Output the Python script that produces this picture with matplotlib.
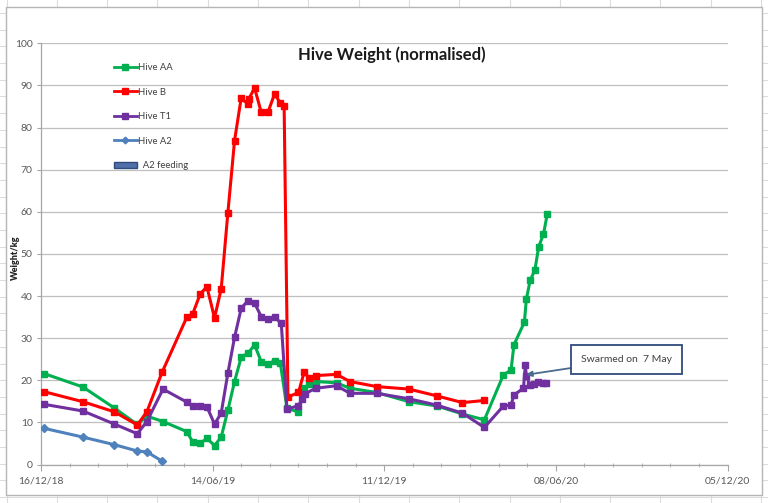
import matplotlib
matplotlib.use('Agg')
import matplotlib.pyplot as plt
import matplotlib.dates as mdates
from matplotlib.lines import Line2D
from matplotlib.patches import Rectangle, Patch
import pandas as pd

plt.rcParams['font.family'] = ['Lato', 'DejaVu Sans']

# ---------------- data ----------------
aa_dates = ['2018-12-19', '2019-01-29', '2019-03-03', '2019-03-27', '2019-04-06', '2019-04-23',
            '2019-05-18', '2019-05-24', '2019-06-01', '2019-06-08', '2019-06-16', '2019-06-23',
            '2019-06-30', '2019-07-07', '2019-07-14', '2019-07-21', '2019-07-28', '2019-08-04',
            '2019-08-11', '2019-08-18', '2019-08-24', '2019-08-31', '2019-09-12', '2019-09-18',
            '2019-09-23', '2019-09-30', '2019-10-22', '2019-11-05', '2019-12-03', '2020-01-06',
            '2020-02-04', '2020-03-02', '2020-03-25', '2020-04-14', '2020-04-22', '2020-04-25',
            '2020-05-06', '2020-05-08', '2020-05-12', '2020-05-17', '2020-05-21', '2020-05-26',
            '2020-05-30']
aa_vals = [21.6, 18.4, 13.4, 9.5, 11.5, 10.2,
           7.8, 5.4, 5.0, 6.2, 4.5, 6.5,
           12.9, 19.7, 25.5, 26.4, 28.4, 24.4,
           23.9, 24.6, 24.1, 13.3, 12.5, 18.1,
           19.0, 19.7, 19.4, 18.1, 17.1, 14.9,
           13.9, 12.0, 10.6, 21.3, 22.4, 28.4,
           33.8, 39.2, 43.7, 46.2, 51.7, 54.7,
           59.5]

b_dates = ['2018-12-19', '2019-01-29', '2019-03-03', '2019-03-27', '2019-04-06', '2019-04-22',
           '2019-05-18', '2019-05-24', '2019-06-01', '2019-06-08', '2019-06-16', '2019-06-23',
           '2019-06-30', '2019-07-07', '2019-07-14', '2019-07-21', '2019-07-22', '2019-07-28',
           '2019-08-04', '2019-08-11', '2019-08-18', '2019-08-24', '2019-08-28', '2019-09-01',
           '2019-09-12', '2019-09-18', '2019-09-23', '2019-09-30', '2019-10-22', '2019-11-05',
           '2019-12-03', '2020-01-06', '2020-02-04', '2020-03-02', '2020-03-25']
b_vals = [17.3, 14.9, 12.5, 9.4, 12.5, 21.9,
          35.0, 35.7, 40.5, 42.2, 34.8, 41.7,
          59.8, 76.9, 87.1, 85.5, 86.8, 89.4,
          83.6, 83.6, 88.0, 85.8, 85.0, 16.0,
          17.1, 21.9, 20.6, 21.1, 21.4, 19.7,
          18.5, 17.9, 16.3, 14.7, 15.2]

t1_dates = ['2018-12-19', '2019-01-29', '2019-03-03', '2019-03-27', '2019-04-06', '2019-04-23',
            '2019-05-18', '2019-05-24', '2019-06-01', '2019-06-08', '2019-06-16', '2019-06-23',
            '2019-06-30', '2019-07-07', '2019-07-14', '2019-07-21', '2019-07-28', '2019-08-04',
            '2019-08-11', '2019-08-18', '2019-08-25', '2019-08-31', '2019-09-12', '2019-09-16',
            '2019-09-19', '2019-09-30', '2019-10-22', '2019-11-05', '2019-12-03', '2020-01-06',
            '2020-02-04', '2020-03-02', '2020-03-25', '2020-04-14', '2020-04-22', '2020-04-25',
            '2020-05-05', '2020-05-07', '2020-05-08', '2020-05-12', '2020-05-16', '2020-05-20',
            '2020-05-25', '2020-05-29']
t1_vals = [14.3, 12.7, 9.6, 7.3, 10.2, 17.9,
           14.8, 13.9, 13.9, 13.7, 9.6, 12.2,
           21.7, 30.2, 37.1, 38.9, 38.3, 35.1,
           34.5, 35.0, 33.5, 13.1, 14.0, 15.5,
           16.8, 18.1, 18.7, 16.9, 16.9, 15.6,
           14.1, 12.2, 8.8, 13.9, 14.1, 16.5,
           18.1, 23.6, 20.9, 18.9, 19.0, 19.7,
           19.3, 19.3]

a2_dates = ['2018-12-19', '2019-01-29', '2019-03-03', '2019-03-27', '2019-04-06', '2019-04-22']
a2_vals = [8.6, 6.5, 4.7, 3.2, 3.0, 0.8]

series_names = ['Hive AA', 'Hive B', 'Hive T1', 'Hive A2']
feeding_label = 'A2 feeding'
title_text = 'Hive Weight (normalised)'
ylabel_text = 'Weight/kg'
note_text = 'Swarmed on  7 May'
note_point = ('2020-05-08', 21.3)
note_pos = ('2020-08-21', 24.9)
x_start, x_end = '2018-12-16', '2020-12-05'

# ---------------- figure ----------------
W, H = 768, 503
fig = plt.figure(figsize=(W / 100, H / 100), dpi=100)
fig.patch.set_facecolor('white')


def fx(px):
    return px / W


def fy(py):
    return 1 - py / H


# spreadsheet cell grid behind the chart
for k in range(17):
    x = 6.5 + 50.3 * k
    fig.add_artist(Line2D([fx(x)] * 2, [0, 1], color='#DCDCDC', lw=0.8, zorder=0))
for k in range(-1, 31):
    y = 12.9 + 16.7 * k
    fig.add_artist(Line2D([0, 1], [fy(y)] * 2, color='#DCDCDC', lw=0.8, zorder=0))

fig.add_artist(Rectangle((fx(6), fy(495)), fx(761.7) - fx(6), fy(7) - fy(495),
                         transform=fig.transFigure, facecolor='white',
                         edgecolor='#B5B5B5', lw=1.0, zorder=1))

ax = fig.add_axes([fx(41), fy(464.5), fx(727.5) - fx(41), fy(43.3) - fy(464.5)])
ax.set_zorder(2)
ax.patch.set_alpha(0)


def d(lst):
    return mdates.date2num(pd.to_datetime(lst))


ax.plot(d(aa_dates), aa_vals, color='#00B050', marker='s', ms=4.8, lw=2.2, label=series_names[0], zorder=3)
ax.plot(d(b_dates), b_vals, color='#FF0000', marker='s', ms=4.8, lw=2.2, label=series_names[1], zorder=4)
ax.plot(d(t1_dates), t1_vals, color='#7030A0', marker='s', ms=4.8, lw=2.2, label=series_names[2], zorder=5)
ax.plot(d(a2_dates), a2_vals, color='#4F81BD', marker='D', ms=4.2, lw=2.2, label=series_names[3], zorder=6)

ax.set_xlim(d([x_start])[0], d([x_end])[0])
ax.set_ylim(0, 100)
ax.set_yticks(range(0, 101, 10))
major = pd.date_range(x_start, periods=5, freq='180D')
minor = pd.date_range(x_start, x_end, freq='30D')
ax.set_xticks(mdates.date2num(major))
ax.set_xticks(mdates.date2num(minor), minor=True)
ax.xaxis.set_major_formatter(mdates.DateFormatter('%d/%m/%y'))

ax.grid(axis='y', color='#BFBFBF', lw=0.9)
ax.set_axisbelow(True)
for s in ['top', 'right']:
    ax.spines[s].set_visible(False)
for s in ['left', 'bottom']:
    ax.spines[s].set_color('#A6A6A6')
    ax.spines[s].set_linewidth(0.9)
ax.tick_params(axis='both', which='major', labelsize=7.5, labelcolor='#595959', color='#A6A6A6')
ax.tick_params(axis='x', which='major', length=4, direction='out', pad=5)
ax.tick_params(axis='x', which='minor', length=3, direction='inout', color='#A6A6A6')
ax.tick_params(axis='y', which='major', length=3, direction='out', pad=3)

fig.text(fx(392), fy(55), title_text, ha='center', va='center', fontsize=12, fontweight='bold', color='#1a1a1a')
fig.text(fx(15), fy(258), ylabel_text, ha='center', va='center', rotation=90, fontsize=6.5,
         fontweight='heavy', color='#262626')

handles = [Line2D([], [], color='#00B050', marker='s', ms=3.8, lw=2.0),
           Line2D([], [], color='#FF0000', marker='s', ms=3.8, lw=2.0),
           Line2D([], [], color='#7030A0', marker='s', ms=3.8, lw=2.0),
           Line2D([], [], color='#4F81BD', marker='D', ms=3.4, lw=2.0),
           Patch(facecolor='#4F6FA8', edgecolor='#2F4B7C')]
labels = series_names + ['  ' + feeding_label]
leg = ax.legend(handles, labels, loc='upper left', bbox_to_anchor=(fx(114), fy(63)),
                bbox_transform=fig.transFigure, frameon=False, fontsize=6.8,
                labelspacing=1.65, handlelength=2.4, handletextpad=0.1,
                borderpad=0, borderaxespad=0)
for t in leg.get_texts():
    t.set_color('#404040')

ax.annotate(note_text, xy=(d([note_point[0]])[0], note_point[1]),
            xytext=(d([note_pos[0]])[0], note_pos[1]), ha='center', va='center',
            fontsize=7.5, color='#404040',
            bbox=dict(boxstyle='square,pad=0.95', facecolor='white', edgecolor='#2F4B7C', lw=1.3),
            arrowprops=dict(arrowstyle='-|>', color='#4A6B8F', lw=1.3, shrinkA=0, shrinkB=0,
                            mutation_scale=8),
            zorder=8)

fig.savefig('out.png', dpi=100, facecolor='white')
